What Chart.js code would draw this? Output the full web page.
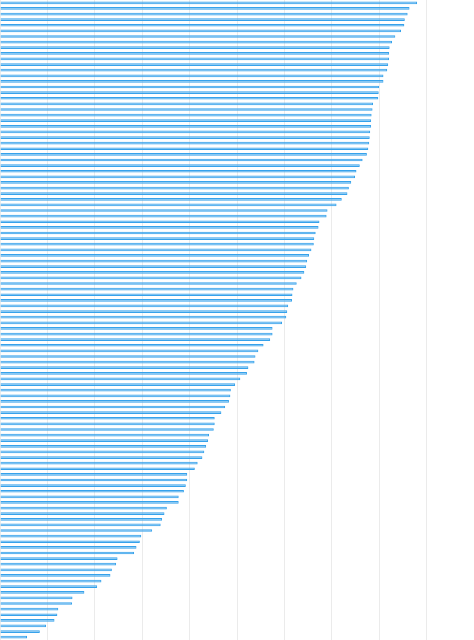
<!DOCTYPE html>
<html><head><meta charset="utf-8">
<script src="https://cdn.jsdelivr.net/npm/chart.js@4"></script>
<style>html,body{margin:0;padding:0;background:#fff}#w{width:474px;height:640px}</style>
</head><body><div id="w"><canvas id="c"></canvas></div>
<script>
const values = [88.0,86.4,86.0,85.4,85.3,84.6,83.4,82.7,82.2,82.1,82.1,81.9,81.7,80.9,80.9,80.0,79.9,79.8,78.7,78.6,78.4,78.3,78.3,78.1,78.0,77.9,77.7,77.4,76.5,75.9,75.2,74.9,74.1,73.6,73.3,72.1,71.0,69.1,68.9,
67.4,67.2,66.6,66.3,66.2,65.7,65.2,64.8,64.6,64.2,63.6,62.6,61.9,61.7,61.6,60.8,60.6,60.4,59.5,57.5,57.5,57.0,55.6,54.5,53.9,53.7,52.4,52.1,50.7,49.6,48.7,48.6,48.3,47.5,46.7,45.3,45.3,45.1,
44.1,43.9,43.5,43.1,42.7,41.7,41.1,39.5,39.5,39.2,38.8,37.7,37.7,35.2,34.7,34.2,33.9,32.1,29.8,29.5,28.8,28.3,24.8,24.5,23.6,23.3,21.4,20.5,17.8,15.3,15.2,12.3,12.1,11.5,9.7,8.4,5.7];
const categories = values.map((v,i)=>String(i+1));
const xMax = 100, xStep = 10;
new Chart(document.getElementById('c'), {
  type: 'bar',
  data: { labels: categories, datasets: [{ data: values,
    backgroundColor: 'rgba(54,162,235,0.6)', borderColor: 'rgb(54,162,235)', borderWidth: 1,
    categoryPercentage: 0.8, barPercentage: 0.6 }] },
  options: {
    indexAxis: 'y', responsive: true, maintainAspectRatio: false, animation: false,
    layout: { padding: 0 },
    plugins: { legend: { display: false }, tooltip: { enabled: false } },
    scales: {
      x: { min: 0, max: xMax, ticks: { display: false, stepSize: xStep },
           grid: { drawTicks: false, color: 'rgba(0,0,0,0.08)' }, border: { display: false } },
      y: { display: false }
    }
  }
});
</script></body></html>
